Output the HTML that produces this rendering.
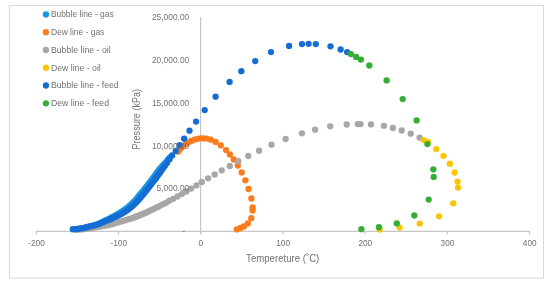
<!DOCTYPE html>
<html lang="en"><head><meta charset="utf-8"><title>Phase envelope chart</title>
<style>html,body{margin:0;padding:0;background:#fff}body{width:550px;height:284px;overflow:hidden}svg{display:block;filter:blur(0.3px)}</style>
</head><body>
<svg width="550" height="284" viewBox="0 0 550 284" font-family="'Liberation Sans', Arial, sans-serif" fill="#727272">
<rect x="0" y="0" width="550" height="284" fill="#ffffff"/>
<rect x="9.5" y="5.5" width="534" height="272.5" fill="#ffffff" stroke="#d9d9d9" stroke-width="1"/>
<g stroke="#c6c6c6" stroke-width="1.2" fill="none"><line x1="35.8" y1="231.3" x2="530.0" y2="231.3"/><line x1="200.6" y1="17" x2="200.6" y2="234.3"/><line x1="36.3" y1="231.3" x2="36.3" y2="234.3"/><line x1="118.5" y1="231.3" x2="118.5" y2="234.3"/><line x1="200.7" y1="231.3" x2="200.7" y2="234.3"/><line x1="282.9" y1="231.3" x2="282.9" y2="234.3"/><line x1="365.1" y1="231.3" x2="365.1" y2="234.3"/><line x1="447.3" y1="231.3" x2="447.3" y2="234.3"/><line x1="529.5" y1="231.3" x2="529.5" y2="234.3"/></g>
<polyline points="72.9,229.2 73.6,229.2 74.3,229.2 75.0,229.2 75.7,229.1 76.4,229.1 77.1,229.0 77.8,228.9 78.5,228.8 79.2,228.8 79.9,228.6 80.6,228.5 81.3,228.4 82.0,228.3 82.6,228.2 83.3,228.0 84.0,227.9 84.7,227.7 85.4,227.6 86.1,227.4 86.7,227.2 87.4,227.1 88.1,226.9 88.8,226.7 89.5,226.6 90.1,226.4 90.8,226.2 91.5,226.0 92.2,225.9 92.9,225.7 93.5,225.5 94.2,225.4 94.9,225.2 95.6,225.0 96.2,224.8 96.9,224.5 97.5,224.3 98.2,224.0 98.8,223.7 99.4,223.4 100.1,223.1 100.7,222.8 101.3,222.5 101.9,222.2 102.6,221.8 103.2,221.5 103.8,221.2 104.5,220.9 105.1,220.6 105.7,220.3 106.4,220.0 107.0,219.7 107.6,219.4 108.3,219.1 108.9,218.8 109.5,218.5 110.1,218.2 110.7,217.9 111.3,217.5 112.0,217.2 112.6,216.9 113.2,216.5 113.8,216.2 114.4,215.9 115.0,215.5 115.6,215.2 116.2,214.8 116.8,214.5 117.4,214.2 118.0,213.8 118.6,213.5 119.2,213.1 119.8,212.8 120.4,212.4 121.0,212.1 121.6,211.7 122.1,211.3 122.7,211.0 123.3,210.6 123.8,210.2 124.4,209.8 124.9,209.4 125.4,209.0 126.0,208.6 126.5,208.2 127.1,207.8 127.6,207.4 128.1,206.9 128.6,206.5 129.2,206.0 129.7,205.6 130.2,205.2 130.7,204.7 131.2,204.2 131.7,203.8 132.2,203.3 132.7,202.8 133.2,202.4 133.6,201.9 134.1,201.4 134.6,200.9 135.0,200.4 135.5,199.9 135.9,199.4 136.3,198.9 136.8,198.4 137.2,197.9 137.7,197.3 138.1,196.8 138.6,196.3 139.0,195.7 139.4,195.2 139.9,194.7 140.3,194.1 140.8,193.6 141.2,193.1 141.7,192.5 142.1,192.0 142.6,191.4 143.0,190.9 143.4,190.4 143.9,189.8 144.3,189.3 144.7,188.7 145.2,188.2 145.6,187.7 146.0,187.1 146.5,186.6 146.9,186.0 147.3,185.5 147.7,184.9 148.2,184.4 148.6,183.8 149.0,183.3 149.4,182.7 149.9,182.2 150.3,181.6 150.7,181.0 151.1,180.5 151.5,179.9 151.9,179.4 152.4,178.8 152.8,178.3 153.2,177.7 153.6,177.1 154.0,176.6 154.4,176.0 154.9,175.4 155.3,174.9 155.7,174.3 156.1,173.8 156.5,173.2 156.9,172.6 157.4,172.1 157.8,171.5 158.2,170.9 158.6,170.4 159.0,169.8 159.4,169.3 159.9,168.7 160.3,168.1 160.8,167.6 161.3,167.1 161.7,166.6 162.2,166.1 162.7,165.6 163.2,165.0 163.6,164.5 164.1,164.0 164.6,163.5 165.1,163.0 165.5,162.5 166.0,161.9 166.4,161.4 166.9,160.9 167.3,160.3 167.8,159.8 168.2,159.3 168.7,158.8 169.1,158.2 169.6,157.7 169.8,157.4" fill="none" stroke="#1796e1" stroke-width="6.3" stroke-linecap="round" stroke-linejoin="round"/>
<g fill="#fd7b1b"><circle cx="178.0" cy="151.7" r="3.15"/><circle cx="179.3" cy="150.1" r="3.15"/><circle cx="181.2" cy="148.0" r="3.15"/><circle cx="183.2" cy="146.1" r="3.15"/><circle cx="185.5" cy="144.3" r="3.15"/><circle cx="188.2" cy="142.6" r="3.15"/><circle cx="191.2" cy="141.0" r="3.15"/><circle cx="194.4" cy="139.7" r="3.15"/><circle cx="197.6" cy="138.8" r="3.15"/><circle cx="200.6" cy="138.3" r="3.15"/><circle cx="203.4" cy="138.3" r="3.15"/><circle cx="206.6" cy="138.6" r="3.15"/><circle cx="210.8" cy="139.7" r="3.15"/><circle cx="215.6" cy="141.9" r="3.15"/><circle cx="220.8" cy="145.4" r="3.15"/><circle cx="226.0" cy="150.1" r="3.15"/><circle cx="229.9" cy="154.4" r="3.15"/><circle cx="233.7" cy="159.5" r="3.15"/><circle cx="237.8" cy="165.5" r="3.15"/><circle cx="241.7" cy="172.4" r="3.15"/><circle cx="245.4" cy="180.3" r="3.15"/><circle cx="248.6" cy="189.0" r="3.15"/><circle cx="251.4" cy="198.5" r="3.15"/><circle cx="252.6" cy="207.5" r="3.15"/><circle cx="252.6" cy="210.5" r="3.15"/><circle cx="251.3" cy="218.2" r="3.15"/><circle cx="247.8" cy="223.5" r="3.15"/><circle cx="243.9" cy="226.4" r="3.15"/><circle cx="240.6" cy="228.0" r="3.15"/><circle cx="236.8" cy="229.4" r="3.15"/></g>
<polyline points="77.0,229.8 77.7,229.7 78.4,229.7 79.1,229.6 79.8,229.6 80.5,229.5 81.2,229.4 81.9,229.3 82.6,229.2 83.3,229.2 84.0,229.1 84.7,229.0 85.4,228.9 86.0,228.8 86.7,228.7 87.4,228.6 88.1,228.5 88.8,228.4 89.5,228.3 90.2,228.2 90.9,228.1 91.6,228.0 92.3,227.9 93.0,227.7 93.7,227.6 94.3,227.5 95.0,227.4 95.7,227.3 96.4,227.2 97.1,227.1 97.8,227.0 98.5,226.8 99.2,226.7 99.9,226.6 100.6,226.5 101.3,226.4 101.9,226.3 102.6,226.1 103.3,226.0 104.0,225.9 104.7,225.8 105.4,225.6 106.1,225.5 106.8,225.4 107.4,225.2 108.1,225.1 108.8,224.9 109.5,224.7 110.2,224.6 110.9,224.4 111.5,224.2 112.2,224.1 112.9,223.9 113.6,223.7 114.2,223.5 114.9,223.3 115.6,223.1 116.2,222.9 116.9,222.7 117.6,222.5 118.3,222.3 118.9,222.1 119.6,221.9 120.3,221.7 120.9,221.5 121.6,221.3 122.3,221.1 123.0,220.9 123.6,220.7 124.3,220.5 125.0,220.3 125.6,220.1 126.3,219.9 127.0,219.7 127.7,219.5 128.3,219.3 129.0,219.1 129.7,218.9 130.3,218.7 131.0,218.5 131.7,218.3 132.3,218.1 133.0,217.9 133.7,217.6 134.3,217.4 135.0,217.2 135.5,217.0" fill="none" stroke="#a7a7a7" stroke-width="6.3" stroke-linecap="round" stroke-linejoin="round"/>
<g fill="#a7a7a7"><circle cx="166.2" cy="202.7" r="3.15"/><circle cx="163.2" cy="204.2" r="3.15"/><circle cx="160.4" cy="205.6" r="3.15"/><circle cx="157.8" cy="206.9" r="3.15"/><circle cx="155.4" cy="208.1" r="3.15"/><circle cx="153.2" cy="209.2" r="3.15"/><circle cx="151.1" cy="210.2" r="3.15"/><circle cx="149.1" cy="211.1" r="3.15"/><circle cx="147.3" cy="212.0" r="3.15"/><circle cx="145.6" cy="212.8" r="3.15"/><circle cx="144.0" cy="213.5" r="3.15"/><circle cx="142.5" cy="214.1" r="3.15"/><circle cx="141.1" cy="214.7" r="3.15"/><circle cx="139.8" cy="215.2" r="3.15"/><circle cx="138.6" cy="215.7" r="3.15"/><circle cx="137.5" cy="216.2" r="3.15"/><circle cx="136.5" cy="216.6" r="3.15"/><circle cx="135.5" cy="217.0" r="3.15"/><circle cx="169.4" cy="200.7" r="3.15"/><circle cx="173.2" cy="198.8" r="3.15"/><circle cx="177.5" cy="196.5" r="3.15"/><circle cx="181.9" cy="194.1" r="3.15"/><circle cx="186.5" cy="191.5" r="3.15"/><circle cx="191.2" cy="188.6" r="3.15"/><circle cx="196.4" cy="185.4" r="3.15"/><circle cx="201.8" cy="182.0" r="3.15"/><circle cx="208.1" cy="178.3" r="3.15"/><circle cx="214.7" cy="174.5" r="3.15"/><circle cx="221.7" cy="170.3" r="3.15"/><circle cx="229.8" cy="166.0" r="3.15"/><circle cx="238.3" cy="161.2" r="3.15"/><circle cx="248.3" cy="156.0" r="3.15"/><circle cx="259.1" cy="150.7" r="3.15"/><circle cx="271.5" cy="144.7" r="3.15"/><circle cx="285.6" cy="139.0" r="3.15"/><circle cx="301.9" cy="133.3" r="3.15"/><circle cx="315.1" cy="129.7" r="3.15"/><circle cx="330.2" cy="126.3" r="3.15"/><circle cx="346.7" cy="124.5" r="3.15"/><circle cx="357.7" cy="124.1" r="3.15"/><circle cx="360.5" cy="124.1" r="3.15"/><circle cx="371.0" cy="124.4" r="3.15"/><circle cx="383.9" cy="125.8" r="3.15"/><circle cx="392.8" cy="128.0" r="3.15"/><circle cx="401.7" cy="130.5" r="3.15"/><circle cx="410.7" cy="133.7" r="3.15"/><circle cx="419.6" cy="137.7" r="3.15"/></g>
<g fill="#ffc500"><circle cx="423.8" cy="140.1" r="3.15"/><circle cx="428.2" cy="142.1" r="3.15"/><circle cx="436.2" cy="149.1" r="3.15"/><circle cx="443.5" cy="155.8" r="3.15"/><circle cx="449.8" cy="163.7" r="3.15"/><circle cx="454.6" cy="172.5" r="3.15"/><circle cx="457.6" cy="181.7" r="3.15"/><circle cx="458.0" cy="187.6" r="3.15"/><circle cx="453.3" cy="203.3" r="3.15"/><circle cx="439.0" cy="216.3" r="3.15"/><circle cx="419.7" cy="223.6" r="3.15"/><circle cx="399.6" cy="227.6" r="3.15"/><circle cx="379.7" cy="229.6" r="3.15"/></g>
<polyline points="72.9,229.2 73.6,229.2 74.3,229.2 75.0,229.2 75.7,229.1 76.4,229.1 77.1,229.0 77.8,228.9 78.5,228.8 79.2,228.8 79.9,228.6 80.6,228.5 81.3,228.4 82.0,228.3 82.6,228.2 83.3,228.0 84.0,227.9 84.7,227.7 85.4,227.6 86.1,227.4 86.7,227.2 87.4,227.1 88.1,226.9 88.8,226.7 89.5,226.6 90.1,226.4 90.8,226.2 91.5,226.0 92.2,225.9 92.9,225.7 93.5,225.5 94.2,225.4 94.9,225.2 95.6,225.0 96.3,224.9 96.9,224.7 97.6,224.5 98.3,224.2 98.9,224.0 99.6,223.7 100.2,223.5 100.8,223.2 101.5,222.9 102.1,222.6 102.8,222.4 103.4,222.1 104.1,221.8 104.7,221.6 105.4,221.3 106.0,221.0 106.7,220.8 107.3,220.5 108.0,220.3 108.6,220.0 109.3,219.7 109.9,219.5 110.6,219.2 111.2,218.9 111.8,218.6 112.5,218.3 113.1,218.0 113.7,217.7 114.4,217.4 115.0,217.1 115.6,216.8 116.3,216.5 116.9,216.2 117.5,215.9 118.1,215.6 118.8,215.3 119.4,215.0 120.0,214.6 120.6,214.3 121.3,214.0 121.9,213.6 122.5,213.3 123.1,213.0 123.7,212.6 124.3,212.2 124.9,211.9 125.5,211.5 126.0,211.1 126.6,210.7 127.2,210.3 127.8,209.9 128.3,209.4 128.9,209.0 129.4,208.6 130.0,208.1 130.5,207.7 131.1,207.3 131.6,206.8 132.1,206.4 132.7,205.9 133.2,205.4 133.7,205.0 134.2,204.5 134.7,204.0 135.2,203.5 135.7,203.0 136.2,202.5 136.7,202.0 137.2,201.5 137.7,201.0 138.1,200.5 138.6,199.9 139.0,199.4 139.5,198.9 139.9,198.3 140.4,197.8 140.8,197.3 141.3,196.7 141.7,196.2 142.2,195.7 142.6,195.1 143.1,194.6 143.5,194.0 144.0,193.5 144.4,193.0 144.9,192.4 145.3,191.9 145.7,191.3 146.2,190.8 146.6,190.2 147.1,189.7 147.5,189.1 147.9,188.6 148.4,188.0 148.8,187.5 149.2,186.9 149.6,186.4 150.1,185.8 150.5,185.3 150.9,184.7 151.3,184.2 151.8,183.6 152.2,183.0 152.6,182.5 153.0,181.9 153.4,181.4 153.9,180.8 154.3,180.2 154.7,179.7 155.1,179.1 155.3,178.9" fill="none" stroke="#156cd3" stroke-width="6.3" stroke-linecap="round" stroke-linejoin="round"/>
<g fill="#156cd3"><circle cx="169.4" cy="159.6" r="3.15"/><circle cx="167.0" cy="163.1" r="3.15"/><circle cx="164.8" cy="166.1" r="3.15"/><circle cx="162.9" cy="168.6" r="3.15"/><circle cx="161.3" cy="170.8" r="3.15"/><circle cx="159.9" cy="172.7" r="3.15"/><circle cx="158.7" cy="174.3" r="3.15"/><circle cx="157.6" cy="175.7" r="3.15"/><circle cx="156.7" cy="176.9" r="3.15"/><circle cx="156.0" cy="178.0" r="3.15"/><circle cx="155.3" cy="178.9" r="3.15"/><circle cx="172.2" cy="155.4" r="3.15"/><circle cx="175.7" cy="150.9" r="3.15"/><circle cx="179.6" cy="145.2" r="3.15"/><circle cx="184.2" cy="138.7" r="3.15"/><circle cx="189.5" cy="130.7" r="3.15"/><circle cx="196.1" cy="121.6" r="3.15"/><circle cx="204.7" cy="110.1" r="3.15"/><circle cx="215.6" cy="96.7" r="3.15"/><circle cx="229.6" cy="81.9" r="3.15"/><circle cx="241.3" cy="71.2" r="3.15"/><circle cx="255.2" cy="61.1" r="3.15"/><circle cx="271.0" cy="52.1" r="3.15"/><circle cx="289.1" cy="45.9" r="3.15"/><circle cx="302.0" cy="44.1" r="3.15"/><circle cx="308.6" cy="43.8" r="3.15"/><circle cx="315.8" cy="44.1" r="3.15"/><circle cx="330.5" cy="46.3" r="3.15"/><circle cx="340.6" cy="49.5" r="3.15"/><circle cx="347.1" cy="52.1" r="3.15"/></g>
<g fill="#34ae34"><circle cx="350.9" cy="54.1" r="3.15"/><circle cx="356.1" cy="56.9" r="3.15"/><circle cx="360.9" cy="59.6" r="3.15"/><circle cx="369.3" cy="65.5" r="3.15"/><circle cx="386.6" cy="80.4" r="3.15"/><circle cx="402.7" cy="99.1" r="3.15"/><circle cx="416.6" cy="120.4" r="3.15"/><circle cx="427.4" cy="144.1" r="3.15"/><circle cx="433.3" cy="169.3" r="3.15"/><circle cx="433.7" cy="176.9" r="3.15"/><circle cx="428.7" cy="199.6" r="3.15"/><circle cx="414.3" cy="215.5" r="3.15"/><circle cx="396.8" cy="223.4" r="3.15"/><circle cx="378.9" cy="227.2" r="3.15"/><circle cx="361.4" cy="229.2" r="3.15"/></g>
<text x="189.3" y="20.2" font-size="9.0" text-anchor="end" textLength="37.4" lengthAdjust="spacingAndGlyphs">25,000.00</text>
<text x="189.3" y="63.0" font-size="9.0" text-anchor="end" textLength="37.4" lengthAdjust="spacingAndGlyphs">20,000.00</text>
<text x="189.3" y="105.8" font-size="9.0" text-anchor="end" textLength="37.4" lengthAdjust="spacingAndGlyphs">15,000.00</text>
<text x="189.3" y="148.5" font-size="9.0" text-anchor="end" textLength="37.4" lengthAdjust="spacingAndGlyphs">10,000.00</text>
<text x="189.3" y="191.3" font-size="9.0" text-anchor="end" textLength="32.7" lengthAdjust="spacingAndGlyphs">5,000.00</text>
<text x="185.3" y="234.2" font-size="9.0" text-anchor="end">-</text>
<text x="36.5" y="246.3" font-size="9.0" text-anchor="middle" textLength="16.6" lengthAdjust="spacingAndGlyphs">-200</text>
<text x="118.7" y="246.3" font-size="9.0" text-anchor="middle" textLength="16.6" lengthAdjust="spacingAndGlyphs">-100</text>
<text x="200.9" y="246.3" font-size="9.0" text-anchor="middle" textLength="4.6" lengthAdjust="spacingAndGlyphs">0</text>
<text x="283.1" y="246.3" font-size="9.0" text-anchor="middle" textLength="13.8" lengthAdjust="spacingAndGlyphs">100</text>
<text x="365.3" y="246.3" font-size="9.0" text-anchor="middle" textLength="13.8" lengthAdjust="spacingAndGlyphs">200</text>
<text x="447.5" y="246.3" font-size="9.0" text-anchor="middle" textLength="13.8" lengthAdjust="spacingAndGlyphs">300</text>
<text x="529.7" y="246.3" font-size="9.0" text-anchor="middle" textLength="13.8" lengthAdjust="spacingAndGlyphs">400</text>
<text x="282.7" y="262.4" font-size="10.2" text-anchor="middle" textLength="73.2" lengthAdjust="spacingAndGlyphs">Tempereture (˚C)</text>
<text transform="translate(140.2,119.2) rotate(-90)" font-size="10.2" text-anchor="middle" textLength="60.7" lengthAdjust="spacingAndGlyphs">Pressure (kPa)</text>
<circle cx="45.9" cy="14.4" r="3.15" fill="#1796e1"/><text x="50.9" y="17.3" font-size="9.0" text-anchor="start" textLength="62.7" lengthAdjust="spacingAndGlyphs">Bubble line - gas</text>
<circle cx="45.9" cy="32.2" r="3.15" fill="#fd7b1b"/><text x="50.9" y="35.1" font-size="9.0" text-anchor="start" textLength="53.4" lengthAdjust="spacingAndGlyphs">Dew line - gas</text>
<circle cx="45.9" cy="50.0" r="3.15" fill="#a7a7a7"/><text x="50.9" y="52.9" font-size="9.0" text-anchor="start" textLength="59.8" lengthAdjust="spacingAndGlyphs">Bubble line - oil</text>
<circle cx="45.9" cy="67.7" r="3.15" fill="#ffc500"/><text x="50.9" y="70.6" font-size="9.0" text-anchor="start" textLength="49.9" lengthAdjust="spacingAndGlyphs">Dew line - oil</text>
<circle cx="45.9" cy="85.5" r="3.15" fill="#156cd3"/><text x="50.9" y="88.4" font-size="9.0" text-anchor="start" textLength="67.8" lengthAdjust="spacingAndGlyphs">Bubble line - feed</text>
<circle cx="45.9" cy="103.3" r="3.15" fill="#34ae34"/><text x="50.9" y="106.2" font-size="9.0" text-anchor="start" textLength="58.1" lengthAdjust="spacingAndGlyphs">Dew line - feed</text>
</svg>
</body></html>
